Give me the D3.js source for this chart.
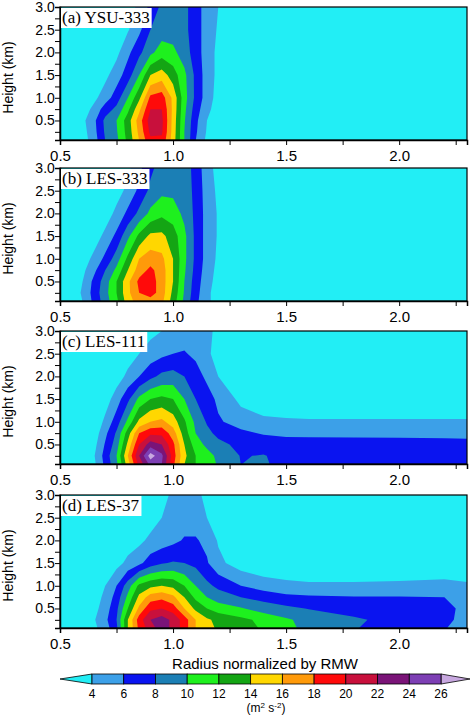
<!DOCTYPE html>
<html><head><meta charset="utf-8">
<script src="https://cdn.jsdelivr.net/npm/d3@7"></script>
<style>body{margin:0;background:#fff}</style>
</head><body>
<svg id="chart" width="474" height="715"></svg>
<script>
// grid columns (radius / RMW) and rows (height, km)
var radii = [0.5,0.6,0.65,0.7,0.75,0.8,0.85,0.9,0.95,1.0,1.05,1.1,1.15,1.2,1.3,1.4,1.5,1.6,1.8,2.0,2.2,2.3];
var heights = [0.05,0.25,0.5,0.75,1.0,1.5,2.0,2.5,3.0];
var levels = [4,6,8,10,12,14,16,18,20,22,24,26];
var colors = ["#3ca0e8","#0a14f0","#1b7fb5","#1ef01e","#14a514","#ffd700","#ff9a0a","#ff0a0a","#c8103c","#7a1478","#7d3fb4","#c8a8e0"];
var lowColor = "#22eef5";
var xTicks = [0.5,1.0,1.5,2.0];
var yTicks = [0.5,1.0,1.5,2.0,2.5,3.0];
var titles = ["(a) YSU-333","(b) LES-333","(c) LES-111","(d) LES-37"];

var ysu333 = [
 [2,3,5,8,9.5,12.5,16,19.5,19.5,15,10,6,3.5,2.5,2,2,2,2,2,2,2,2],
 [2,3.2,5.3,8.3,9.8,12.8,16.5,20.5,20.3,15.2,10,6.3,3.8,2.8,2,2,2,2,2,2,2,2],
 [2,3.5,5.5,8.5,10,13,17,21,20.5,15.3,10.2,6.5,4,3,2.5,2,2,2,2,2,2,2],
 [2,3,4.5,7,8.5,11.5,15.5,20,20,15.5,10.5,7,4.5,3.1,2.5,2,2,2,2,2,2,2],
 [2,2.5,3.5,5,7,10,13.5,18.5,19,15.5,10.8,7.5,5,3.2,2.5,2,2,2,2,2,2,2],
 [2,2,2.5,3.5,5,7,10,14,15,13,10.5,7.5,5,3.5,2.5,2,2,2,2,2,2,2],
 [2,2,2,2.5,3.5,5.5,7.5,9.5,11,10.5,9,7,5,3.5,2.5,2,2,2,2,2,2,2],
 [2,2,2,2,2.5,3.8,5.5,8,9,9,8.5,7,5,3.8,2.5,2,2,2,2,2,2,2],
 [2,2,2,2,2,3,4.5,6.5,8.5,9,8.5,7,5,4,2.5,2,2,2,2,2,2,2]
];
var les333 = [
 [2,4,6.5,9,11.5,15,17,17,16.5,13,9.5,6.5,4.5,3,2,2,2,2,2,2,2,2],
 [2,4.2,6.8,9.3,12,15.5,18,19,17,13.5,9.8,6.8,4.5,3,2,2,2,2,2,2,2,2],
 [2,4,6.5,9,12,15.5,18.5,19,17,14,10,7,4.8,3.2,2.2,2,2,2,2,2,2,2],
 [2,3.5,5.5,8,10.5,14,17,18.5,17,14,10.3,7.3,5,3.4,2.3,2,2,2,2,2,2,2],
 [2,3,4.5,6.5,9,12.5,16,17,16.5,14,10.5,7.5,5.2,3.6,2.4,2,2,2,2,2,2,2],
 [2,2.3,3,4.5,6.5,9.5,12.5,14.5,14.5,13,10.5,7.5,5.2,3.8,2.5,2,2,2,2,2,2,2],
 [2,2,2.3,3,4.5,6.5,8.5,10.5,11.5,11,9.5,7.5,5.2,3.8,2.5,2,2,2,2,2,2,2],
 [2,2,2,2.3,3.2,4.5,6.5,8.5,9.5,9.5,9,7.5,5,3.6,2.4,2,2,2,2,2,2,2],
 [2,2,2,2,2.5,3.5,5.5,7.5,9,9.5,9,7.3,4.8,3.3,2.2,2,2,2,2,2,2,2]
];
var les111 = [
 [2,2,3.5,6.5,9.5,15,20.5,24.5,24,18.5,14,12,11,9.8,8,8.2,7.5,7.2,7,6.8,6.6,6.5],
 [2,2,3.8,6.8,10,16,22,27,24.5,19,14.5,12,10.8,9.5,7.9,8.1,7.4,7.1,7,6.9,6.8,6.7],
 [2,2,3.3,6.2,9,14.5,20,23,22,18.5,14,11,9.5,8.5,7.5,7.2,7,6.9,6.8,6.7,6.6,6.5],
 [2,2,2.8,5.5,8.3,13,18,19.5,19.5,17,13,10,8.5,7.5,6.5,5.8,5.5,5.5,5.5,5.5,5.5,5.5],
 [2,2,2.3,4.5,7,10.5,14.5,16,16.5,15,12.3,9.5,7.8,6.3,5,4.5,4.3,4.2,4.2,4.2,4.2,4.2],
 [2,2,2,3,5,7.5,10.5,12,12.5,12,10,8,7,5.5,3.5,2.5,2.5,2.5,2.5,2.5,2.5,2.5],
 [2,2,2,2,3,4.5,6,7.5,8.5,8.8,8,7,5.5,4,2.5,2,2,2,2,2,2,2],
 [2,2,2,2,2,3,4,4.8,5.5,6,6.2,5.5,4.5,3,2,2,2,2,2,2,2,2],
 [2,2,2,2,2,2.5,3,3.5,4,4.5,4.8,4.8,4.5,3.5,2,2,2,2,2,2,2,2]
];
var les37 = [
 [2,2,3.5,5,7.5,14,18.5,21,23,21.5,19,16,14.5,13.8,12.8,11.8,10.5,9.5,8.1,7,6.1,5],
 [2,2,3.8,5.5,8,14,19,22,23,21.5,19,16,14.3,13.5,12.5,11.5,10.3,9.3,8.3,7.3,6.5,5.3],
 [2,2,3.3,5,7.5,12,16.5,19.5,20,19,16,13.5,12,11,10.2,9,8.5,7.9,7.2,6.9,6.5,5.5],
 [2,2,3,4.5,6.8,10.5,14.5,17,17.5,16.5,14,11.5,10,9,8,7.3,6.5,6.3,6.1,6.1,6,5.5],
 [2,2,2.5,4,6,9,12.5,13.5,14,13.5,12,10,8.5,7.5,6,5,4.5,4.3,4.3,4.4,4.6,4.3],
 [2,2,2,2.5,3.3,4.5,5.5,7,7.8,8.2,8,7.5,6.2,4.5,3,2.5,2.5,2.5,2.5,2.5,2.5,2.5],
 [2,2,2,2,2.5,3,3.5,4.5,5,5.5,6.2,6.2,5.5,3.8,2.5,2,2,2,2,2,2,2],
 [2,2,2,2,2,2,2.5,3,4,4.8,5,5,4,3,2,2,2,2,2,2,2,2],
 [2,2,2,2,2,2,2,2.5,3.5,4.3,4.8,4.5,3.5,2.5,2,2,2,2,2,2,2,2]
];
var fields = [ysu333, les333, les111, les37];

var svg = d3.select("#chart");
var left = 60, right = 467;
var tops = [7, 168, 331, 495];
var ph = 133;
var sans = "Liberation Sans, Arial, sans-serif";

var x = d3.scaleLinear().domain([0.5, 2.3]).range([left, right]);
// grid index -> data coordinates
var ix = d3.scaleLinear().domain(radii.map(function(d,i){return i+0.5;})).range(radii);
var iy = d3.scaleLinear().domain(heights.map(function(d,i){return i+0.5;})).range(heights);

fields.forEach(function(field, p) {
    var top = tops[p];
    var y = d3.scaleLinear().domain([0.07, 3.0]).range([top + ph, top]);
    var g = svg.append("g");

    g.append("clipPath").attr("id", "clip" + p)
        .append("rect").attr("x", left).attr("y", top).attr("width", right - left).attr("height", ph);

    var plot = g.append("g").attr("clip-path", "url(#clip" + p + ")");
    plot.append("rect").attr("x", left).attr("y", top).attr("width", right - left).attr("height", ph).attr("fill", lowColor);

    var values = [].concat.apply([], field);
    var contours = d3.contours().size([radii.length, heights.length]).thresholds(levels)(values);
    var proj = d3.geoTransform({ point: function(u, v) {
        this.stream.point(x(ix(u)), y(iy(v)));
    }});
    var path = d3.geoPath(proj);
    plot.selectAll("path").data(contours).enter().append("path")
        .attr("d", path)
        .attr("fill", function(d, i) { return colors[i]; });

    // axes
    g.append("g").attr("transform", "translate(0," + (top + ph) + ")")
        .call(d3.axisBottom(x).tickValues(d3.range(0.5, 2.31, 0.25)).tickSize(5)
              .tickFormat(function(d){ return xTicks.indexOf(Math.round(d*100)/100) >= 0 ? d3.format(".1f")(d) : ""; }))
        .call(function(a){ a.select(".domain").attr("stroke-width", 1.5); a.selectAll("text").attr("font-size", 15).attr("font-family", sans).attr("dy", "0.85em"); });
    g.append("g").attr("transform", "translate(" + left + ",0)")
        .call(d3.axisLeft(y).tickValues(d3.range(0.25, 3.01, 0.25)).tickSize(5)
              .tickFormat(function(d){ return yTicks.indexOf(Math.round(d*100)/100) >= 0 ? d3.format(".1f")(d) : ""; }))
        .call(function(a){ a.select(".domain").attr("stroke-width", 1.5); a.selectAll("text").attr("font-size", 14).attr("font-family", sans).attr("dx", "0.2em"); });
    g.append("rect").attr("x", left).attr("y", top).attr("width", right - left).attr("height", ph)
        .attr("fill", "none").attr("stroke", "#000").attr("stroke-width", 1.2);

    g.append("text").attr("transform", "translate(13," + (top + ph / 2 + 4) + ") rotate(-90)")
        .attr("text-anchor", "middle").attr("font-family", sans).attr("font-size", 14).text("Height (km)");

    var lab = g.append("text").attr("x", left + 2).attr("y", top + 16)
        .attr("font-family", "Liberation Serif, Times New Roman, serif").attr("font-size", 17).text(titles[p]);
    var bb = lab.node().getBBox();
    g.insert("rect", function(){ return lab.node(); })
        .attr("x", left + 1).attr("y", top + 1).attr("width", bb.width + 3).attr("height", bb.height + 1).attr("fill", "#fff");
});

svg.append("text").attr("x", 265).attr("y", 669).attr("text-anchor", "middle")
    .attr("font-family", sans).attr("font-size", 15).text("Radius normalized by RMW");

// colour bar
var cb = d3.scaleLinear().domain([4, 26]).range([92, 441]);
var cy = 674, chh = 10;
var cbar = svg.append("g");
cbar.append("path").attr("d", "M60," + (cy + chh / 2) + "L" + cb(4) + "," + cy + "V" + (cy + chh) + "Z")
    .attr("fill", lowColor).attr("stroke", "#000").attr("stroke-width", 0.8);
cbar.append("path").attr("d", "M470," + (cy + chh / 2) + "L" + cb(26) + "," + cy + "V" + (cy + chh) + "Z")
    .attr("fill", colors[11]).attr("stroke", "#000").attr("stroke-width", 0.8);
cbar.selectAll("rect").data(levels.slice(0, 11)).enter().append("rect")
    .attr("x", function(d){ return cb(d); }).attr("y", cy)
    .attr("width", function(d){ return cb(d + 2) - cb(d); }).attr("height", chh)
    .attr("fill", function(d, i){ return colors[i]; }).attr("stroke", "#000").attr("stroke-width", 0.8);
cbar.selectAll("text").data(levels).enter().append("text")
    .attr("x", function(d){ return cb(d); }).attr("y", cy + chh + 14).attr("text-anchor", "middle")
    .attr("font-family", sans).attr("font-size", 12).text(function(d){ return d; });
var unit = svg.append("text").attr("x", 266).attr("y", 712).attr("text-anchor", "middle")
    .attr("font-family", sans).attr("font-size", 12);
unit.append("tspan").text("(m");
unit.append("tspan").attr("dy", -4).attr("font-size", 8).text("2");
unit.append("tspan").attr("dy", 4).text(" s");
unit.append("tspan").attr("dy", -4).attr("font-size", 8).text("-2");
unit.append("tspan").attr("dy", 4).text(")");
</script>
</body></html>
